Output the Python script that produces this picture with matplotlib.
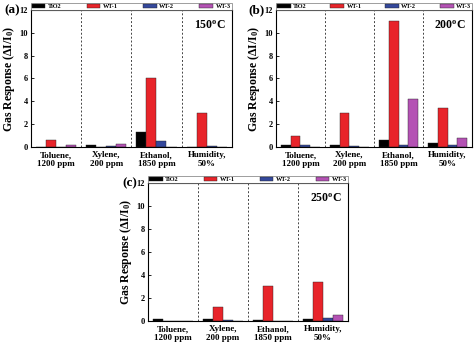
import numpy as np
import matplotlib
matplotlib.use('Agg')
import matplotlib.pyplot as plt
from matplotlib.transforms import offset_copy

plt.rcParams['font.family'] = ['Liberation Serif', 'DejaVu Serif']
plt.rcParams['font.weight'] = 'bold'
plt.rcParams['mathtext.fontset'] = 'custom'
plt.rcParams['mathtext.rm'] = 'Liberation Serif:bold'
plt.rcParams['mathtext.it'] = 'Liberation Serif:bold'
plt.rcParams['mathtext.bf'] = 'Liberation Serif:bold'

categories = ['Toluene,\n1200 ppm', 'Xylene,\n200 ppm', 'Ethanol,\n1850 ppm', 'Humidity,\n50%']
samples = ['TiO2', 'WT-1', 'WT-2', 'WT-3']
colors = ['#000000', '#e8242a', '#34489c', '#b452b4']

# response per sample, order: toluene, xylene, ethanol, humidity
resp_150 = {
    'TiO2': [0.03, 0.15, 1.35, 0.0],
    'WT-1': [0.6, 0.02, 6.0, 3.0],
    'WT-2': [0.0, 0.05, 0.5, 0.05],
    'WT-3': [0.15, 0.25, 0.0, 0.0],
}
resp_200 = {
    'TiO2': [0.2, 0.2, 0.6, 0.35],
    'WT-1': [1.0, 3.0, 11.0, 3.4],
    'WT-2': [0.2, 0.1, 0.2, 0.2],
    'WT-3': [0.0, 0.0, 4.2, 0.8],
}
resp_250 = {
    'TiO2': [0.12, 0.15, 0.05, 0.2],
    'WT-1': [0.0, 1.2, 3.0, 3.4],
    'WT-2': [0.0, 0.05, 0.0, 0.25],
    'WT-3': [0.0, 0.0, 0.0, 0.55],
}

panels = [
    ('(a)', '150$^{\\mathrm{o}}$C', resp_150, [0.065, 0.574, 0.424, 0.397]),
    ('(b)', '200$^{\\mathrm{o}}$C', resp_200, [0.582, 0.574, 0.414, 0.397]),
    ('(c)', '250$^{\\mathrm{o}}$C', resp_250, [0.312, 0.070, 0.422, 0.400]),
]

fig = plt.figure(figsize=(4.74, 3.45), dpi=100)
x = np.arange(len(categories))
w = 0.2

for tag, temp, data, rect in panels:
    ax = fig.add_axes(rect)
    for k, s in enumerate(samples):
        ax.bar(x + (k - 1.5) * w, data[s], w, color=colors[k], label=s,
               edgecolor='#222222', linewidth=0.3)
    for xv in [0.5, 1.5, 2.5]:
        ax.axvline(xv, color='#444444', linestyle=(0, (2, 2)), linewidth=0.7)
    ax.set_xlim(-0.5, 3.5)
    ax.set_ylim(0, 12)
    ax.set_yticks(range(0, 13, 2))
    ax.set_xticks(x)
    ax.set_xticklabels(categories, fontsize=6.5, fontweight='bold')
    ax.tick_params(axis='x', length=0, pad=3)
    ax.tick_params(axis='y', labelsize=6, direction='in', length=2, width=0.6, pad=2)
    for sp in ax.spines.values():
        sp.set_linewidth(0.8)
    ax.set_ylabel('Gas Response ($\\Delta$I/I$_{\\mathrm{0}}$)', fontsize=8.5,
                  fontweight='bold', labelpad=2)
    ax.text(0.97, 0.93, temp, transform=ax.transAxes, ha='right', va='top',
            fontsize=8.5, fontweight='bold')
    tr = offset_copy(ax.transAxes, fig=fig, x=-8, y=0, units='points')
    ax.text(0, 1.0, tag, transform=tr, ha='right', va='center',
            fontsize=9.5, fontweight='bold')
    leg = ax.legend(loc='lower left', bbox_to_anchor=(0, 1.0, 1, 0.06), mode='expand',
                    ncol=4, borderaxespad=0, fontsize=4.5, frameon=True, fancybox=False,
                    handlelength=2.2, handleheight=0.7, borderpad=0.15,
                    handletextpad=0.4, columnspacing=1.0)
    leg.get_frame().set_edgecolor('#555555')
    leg.get_frame().set_linewidth(0.5)

fig.savefig('out.png', dpi=100)
